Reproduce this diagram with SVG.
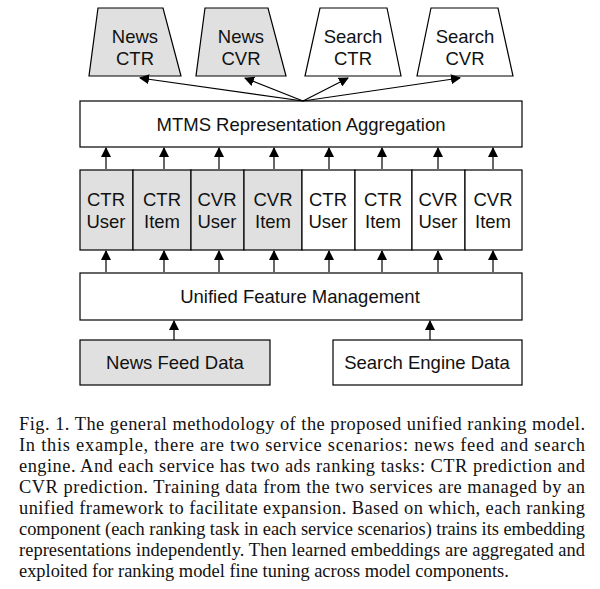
<svg xmlns="http://www.w3.org/2000/svg" width="600" height="589" viewBox="0 0 600 589">
<defs>
<style>
.b{stroke:#000;stroke-width:1.2}
.g{fill:#e0e0e0}.w{fill:#fff}
.t{font-family:"Liberation Sans",Arial,sans-serif;font-size:18.5px;text-anchor:middle;fill:#111}
.c{font-family:"Liberation Serif","Times New Roman",serif;font-size:18.4px;fill:#111}
.l{stroke:#000;stroke-width:1.2;fill:none;marker-end:url(#a)}
</style>
<marker id="a" markerWidth="10" markerHeight="10" refX="9" refY="5" orient="auto" markerUnits="userSpaceOnUse"><path d="M0,0L10,5L0,10z"/></marker>
</defs>
<rect width="600" height="589" fill="#fff"/>
<g id="news-ctr"><polygon class="b g" points="98,8 163,8 181,76 89,76"/><text class="t" x="135" y="43">News</text><text class="t" x="135" y="65">CTR</text></g>
<g id="news-cvr"><polygon class="b g" points="205,8 268,8 286,76 196,76"/><text class="t" x="241" y="43">News</text><text class="t" x="241" y="65">CVR</text></g>
<g id="search-ctr"><polygon class="b w" points="320,8 387,8 401,76 305,76"/><text class="t" x="353" y="43">Search</text><text class="t" x="353" y="65">CTR</text></g>
<g id="search-cvr"><polygon class="b w" points="431,8 498,8 513,76 417,76"/><text class="t" x="465" y="43">Search</text><text class="t" x="465" y="65">CVR</text></g>
<g id="mtms"><rect class="b w" x="80" y="101" width="442" height="46"/><text class="t" x="301" y="131">MTMS Representation Aggregation</text></g>
<g id="cells">
<rect class="b g" x="80" y="170" width="53" height="80"/><text class="t" x="106" y="206">CTR</text><text class="t" x="106" y="228">User</text>
<rect class="b g" x="133" y="170" width="58" height="80"/><text class="t" x="162" y="206">CTR</text><text class="t" x="162" y="228">Item</text>
<rect class="b g" x="191" y="170" width="53" height="80"/><text class="t" x="217" y="206">CVR</text><text class="t" x="217" y="228">User</text>
<rect class="b g" x="244" y="170" width="58" height="80"/><text class="t" x="273" y="206">CVR</text><text class="t" x="273" y="228">Item</text>
<rect class="b w" x="302" y="170" width="53" height="80"/><text class="t" x="328" y="206">CTR</text><text class="t" x="328" y="228">User</text>
<rect class="b w" x="355" y="170" width="57" height="80"/><text class="t" x="383" y="206">CTR</text><text class="t" x="383" y="228">Item</text>
<rect class="b w" x="412" y="170" width="53" height="80"/><text class="t" x="438" y="206">CVR</text><text class="t" x="438" y="228">User</text>
<rect class="b w" x="465" y="170" width="57" height="80"/><text class="t" x="493" y="206">CVR</text><text class="t" x="493" y="228">Item</text>
</g>
<g id="unified"><rect class="b w" x="80" y="273" width="442" height="47"/><text class="t" x="300" y="303">Unified Feature Management</text></g>
<g id="news-data"><rect class="b g" x="80" y="340" width="190" height="45"/><text class="t" x="175" y="369">News Feed Data</text></g>
<g id="search-data"><rect class="b w" x="333" y="340" width="189" height="45"/><text class="t" x="427" y="369">Search Engine Data</text></g>
<g id="connectors">
<path class="l" d="M303,101L140,78"/><path class="l" d="M303,101L245,78"/><path class="l" d="M303,101L348,78"/><path class="l" d="M303,101L460,78"/>
<path class="l" d="M106,169V148"/><path class="l" d="M164,169V148"/><path class="l" d="M219,169V148"/><path class="l" d="M274,169V148"/><path class="l" d="M329,169V148"/><path class="l" d="M382,169V148"/><path class="l" d="M438,169V148"/><path class="l" d="M493,169V148"/>
<path class="l" d="M106,272V251"/><path class="l" d="M164,272V251"/><path class="l" d="M219,272V251"/><path class="l" d="M274,272V251"/><path class="l" d="M329,272V251"/><path class="l" d="M382,272V251"/><path class="l" d="M438,272V251"/><path class="l" d="M493,272V251"/>
<path class="l" d="M174,340V321"/><path class="l" d="M430,340V321"/>
</g>
<g id="caption" class="c">
<text x="19" y="430" textLength="566" lengthAdjust="spacing">Fig. 1.  The general methodology of the proposed unified ranking model.</text>
<text x="19" y="451" textLength="566" lengthAdjust="spacing">In this example, there are two service scenarios: news feed and search</text>
<text x="19" y="472" textLength="566" lengthAdjust="spacing">engine. And each service has two ads ranking tasks: CTR prediction and</text>
<text x="19" y="493" textLength="566" lengthAdjust="spacing">CVR prediction. Training data from the two services are managed by an</text>
<text x="19" y="514" textLength="566" lengthAdjust="spacing">unified framework to facilitate expansion. Based on which, each ranking</text>
<text x="19" y="535" textLength="566" lengthAdjust="spacing">component (each ranking task in each service scenarios) trains its embedding</text>
<text x="19" y="556" textLength="566" lengthAdjust="spacing">representations independently. Then learned embeddings are aggregated and</text>
<text x="19" y="577">exploited for ranking model fine tuning across model components.</text>
</g>
</svg>
